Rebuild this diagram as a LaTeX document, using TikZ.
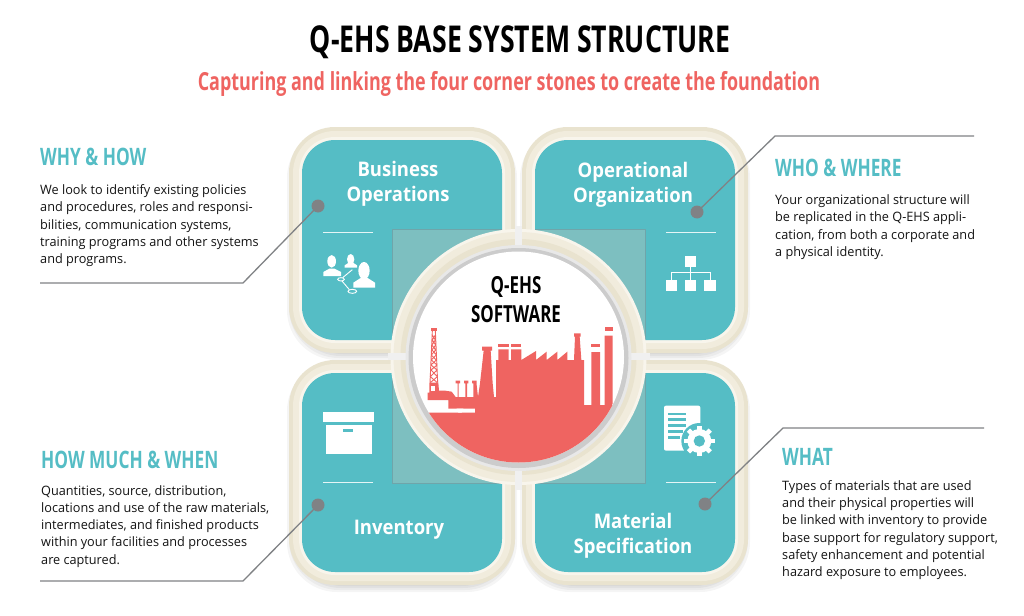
\documentclass[tikz,border=0pt]{standalone}
\usepackage{fontspec}
\setmainfont{Open Sans}
\newfontfamily\cond[FakeStretch=0.72]{Open Sans}
\newfontfamily\semi[FakeStretch=0.98]{Open Sans}
\newfontfamily\semib[FakeStretch=0.92]{Open Sans}
\definecolor{teal}{HTML}{55BDC5}
\definecolor{lightteal}{HTML}{7DBFC0}
\definecolor{tealedge}{HTML}{6FA5AA}
\definecolor{coral}{HTML}{EF6461}
\definecolor{creamA}{HTML}{E9E3CF}
\definecolor{creamB}{HTML}{F1ECDD}
\definecolor{creamC}{HTML}{F8F5EC}
\definecolor{wire}{HTML}{808285}
\tikzset{
  bodytext/.style={anchor=north west,align=left,inner sep=0pt,text=black!92,font=\semi\fontsize{12.95}{17.3}\selectfont},
  headtext/.style={anchor=west,inner sep=0pt,text=teal,font=\cond\bfseries\fontsize{24}{26}\selectfont},
  paneltext/.style={align=center,inner sep=0pt,text=white,font=\semib\bfseries\fontsize{20.1}{25.3}\selectfont},
  dotnode/.style={circle,fill=wire,inner sep=0pt,minimum size=13pt},
  wireline/.style={draw=wire,line width=1.3pt},
  sepline/.style={draw=white!85!teal,line width=1pt}
}
% #1,#2 = left,top of teal area; #3,#4 = right,bottom
\newcommand{\panelshadow}[4]{%
  \foreach \s in {15,13,11,9,7,5}{%
    \fill[black,opacity=.04,rounded corners=50pt] (#1-\s,#2-\s+3) rectangle (#3+\s,#4+\s+5);}}
\newcommand{\panelbody}[4]{%
  \fill[creamA,rounded corners=46pt] (#1-13,#2-13) rectangle (#3+13,#4+13);
  \fill[creamB,rounded corners=42pt] (#1-9,#2-9) rectangle (#3+9,#4+9);
  \fill[creamC,rounded corners=36pt] (#1-3,#2-3) rectangle (#3+3,#4+3);
  \fill[teal,rounded corners=33pt] (#1,#2) rectangle (#3,#4);}
\begin{document}
\begin{tikzpicture}[x=1pt,y=-1pt]
\useasboundingbox (0,0) rectangle (1024,615);
\fill[white] (0,0) rectangle (1024,615);

% title
\node[inner sep=0pt,font=\cond\bfseries\fontsize{37}{40}\selectfont] (title) at (520,42) {Q-EHS BASE SYSTEM STRUCTURE};
\node[inner sep=0pt,text=coral,font=\cond\bfseries\fontsize{24.9}{28}\selectfont] (subtitle) at (509,84) {Capturing and linking the four corner stones to create the foundation};

% panels
\panelshadow{302}{140}{502}{340}
\panelshadow{535}{140}{735}{340}
\panelshadow{302}{373}{502}{572}
\panelshadow{535}{373}{735}{572}
\panelbody{302}{140}{502}{340}
\panelbody{535}{140}{735}{340}
\panelbody{302}{373}{502}{572}
\panelbody{535}{373}{735}{572}

% lighter inner squares
\fill[lightteal] (392,229) rectangle (502,340);
\draw[tealedge,line width=.7pt] (502,229) -- (392,229) -- (392,340);
\fill[lightteal] (535,229) rectangle (645,340);
\draw[tealedge,line width=.7pt] (535,229) -- (645,229) -- (645,340);
\fill[lightteal] (392,373) rectangle (502,483);
\draw[tealedge,line width=.7pt] (392,373) -- (392,483) -- (502,483);
\fill[lightteal] (535,373) rectangle (645,483);
\draw[tealedge,line width=.7pt] (645,373) -- (645,483) -- (535,483);

% ring
\fill[creamC] (518.5,357) circle[radius=128pt];
\fill[creamB] (518.5,357) circle[radius=125pt];
\fill[creamA] (518.5,357) circle[radius=118pt];
% gaps through the ring
\fill[black!6] (515,226) rectangle (522,250);
\fill[black!6] (515,464) rectangle (522,490);
\fill[black!6] (388,353) rectangle (412,360);
\fill[black!6] (625,353) rectangle (650,360);
% grey rim and white disc
\fill[black!9] (518.5,358) circle[radius=113pt];
\fill[black!20] (518.5,358) circle[radius=110pt];
\fill[white] (518.5,357) circle[radius=105.5pt];

% skyline
\begin{scope}
\clip (518.5,357) circle[radius=105.5pt];
\begin{scope}[shift={(390,220)},scale=1/3]
\fill[coral] (60,800) -- (60,578) -- (255,578) -- (255,566) -- (175,566) -- (175,540) -- (113,540) -- (113,518)
  -- (118,518) -- (118,488) -- (145,488) -- (147,512) -- (165,512) -- (185,515) -- (197,531)
  -- (203,531) -- (203,490) -- (197,490) -- (197,482) -- (210,482) -- (210,490) -- (206,490) -- (206,531)
  -- (226,531) -- (226,490) -- (222,490) -- (222,482) -- (235,482) -- (235,490) -- (231,490) -- (231,531)
  -- (250,531) -- (250,490) -- (246,490) -- (246,482) -- (260,482) -- (260,495) -- (264,531)
  -- (270,490) -- (281,392) -- (276,392) -- (276,380) -- (306,380) -- (306,392) -- (302,392) -- (308,490)
  -- (312,531) -- (318,531) -- (318,420) -- (325,420) -- (325,388) -- (356,388) -- (356,420) -- (363,420)
  -- (363,388) -- (394,388) -- (394,420) -- (438,393) -- (438,420) -- (470,395) -- (470,420) -- (502,395)
  -- (502,420) -- (532,395) -- (532,420) -- (552,420) -- (555,350) -- (552,350) -- (552,340) -- (572,340)
  -- (572,350) -- (569,350) -- (574,420) -- (582,420) -- (582,555) -- (604,555) -- (604,396) -- (630,396)
  -- (630,555) -- (644,555) -- (644,347) -- (668,347) -- (668,555) -- (720,555) -- (720,800) -- cycle;
\fill[coral] (325,371) rectangle (356,381);
\fill[coral] (363,371) rectangle (394,381);
\fill[coral] (604,372) rectangle (630,382);
\fill[coral] (644,322) rectangle (668,332);
% rig
\fill[coral] (123,324) rectangle (141,332);
\draw[coral,line width=.9pt] (127,332) -- (120,488) (136,332) -- (143,488)
  (127,345) -- (136,360) -- (126,375) -- (137,390) -- (124,405) -- (139,420) -- (123,435) -- (141,450) -- (121,470) -- (142,488)
  (136,345) -- (127,360) -- (137,375) -- (126,390) -- (139,405) -- (124,420) -- (141,435) -- (123,450) -- (142,470) -- (121,488);
\fill[white] (200,566) -- (220,566) -- (215,578) -- (205,578) -- cycle;
\fill[white] (124,498) rectangle (135,512);
\end{scope}
\end{scope}

\node[inner sep=0pt,font=\cond\bfseries\fontsize{23.5}{29}\selectfont,align=center] (software) at (516,299.5) {Q-EHS\\SOFTWARE};

% panel labels
\node[paneltext] (bizops) at (398,183.5) {Business\\Operations};
\node[paneltext] (opsorg) at (633,184.5) {Operational\\Organization};
\node[paneltext] (invent) at (399,530) {Inventory};
\node[paneltext] (matspec) at (633,535.5) {Material\\Specification};

% separators
\draw[sepline] (323,232) -- (373,232);
\draw[sepline] (666,232) -- (716,232);
\draw[sepline] (323,482) -- (373,482);
\draw[sepline] (666,482) -- (716,482);

% people icon
\begin{scope}[shift={(280,120)},scale=1/3]
\fill[white] (155,424) ellipse[x radius=13,y radius=19];
\fill[white] (130,468) -- (130,456) -- (148,446) -- (163,446) -- (183,456) -- (183,468) -- cycle;
\fill[white] (212,418) ellipse[x radius=11,y radius=16];
\fill[white] (194,443) -- (194,436) -- (206,428) -- (219,428) -- (231,436) -- (231,443) -- cycle;
\fill[white] (252,452) ellipse[x radius=17,y radius=26];
\fill[white] (220,503) -- (220,488) -- (242,474) -- (263,474) -- (285,488) -- (285,503) -- cycle;
\draw[white,line width=.9pt] (183,478) ellipse[x radius=10,y radius=5];
\draw[white,line width=.9pt] (217,514) ellipse[x radius=13,y radius=6];
\draw[white,line width=.9pt] (188,473) -- (217,449) (186,483) -- (208,509);
\end{scope}

% org chart icon
\begin{scope}[shift={(520,120)},scale=1/3]
\fill[white] (495,408) rectangle (528,440);
\fill[white] (437,480) rectangle (470,512);
\fill[white] (495,480) rectangle (528,512);
\fill[white] (553,480) rectangle (587,512);
\draw[white,line width=.8pt] (512,440) -- (512,480) (453,480) -- (453,458) -- (570,458) -- (570,480);
\end{scope}

% box icon
\begin{scope}[shift={(280,360)},scale=1/3]
\fill[white] (130,155) rectangle (282,187);
\fill[white] (137,195) rectangle (275,283);
\fill[teal] (190,208) rectangle (220,217);
\end{scope}

% document and gear icon
\begin{scope}[shift={(510,360)},scale=1/3]
\fill[white,rounded corners=2pt] (462,137) rectangle (571,272);
\fill[teal] (475,158) rectangle (527,165);
\fill[teal] (475,175) rectangle (527,182);
\fill[teal] (475,193) rectangle (527,200);
\fill[teal] (475,211) rectangle (520,218);
\fill[teal] (475,229) rectangle (510,236);
\fill[teal] (568,243) circle[radius=54];
\foreach \a in {0,45,...,135}{%
  \fill[white,rotate around={\a:(568,243)}] (561,197) rectangle (575,289);}
\fill[white] (568,243) circle[radius=36];
\fill[teal] (568,243) circle[radius=17];
\end{scope}

% headings
\node[headtext] (why) at (40,157) {WHY \& HOW};
\node[headtext] (who) at (775,168) {WHO \& WHERE};
\node[headtext] (how) at (41,460) {HOW MUCH \& WHEN};
\node[headtext] (what) at (782,457) {WHAT};

% body text
\node[bodytext] (whytxt) at (40,184.5) {We look to identify existing policies\\and procedures, roles and responsi-\\bilities, communication systems,\\training programs and other systems\\and programs.};
\node[bodytext] (whotxt) at (775,194.5) {Your organizational structure will\\be replicated in the Q-EHS appli-\\cation, from both a corporate and\\a physical identity.};
\node[bodytext] (howtxt) at (41,485) {Quantities, source, distribution,\\locations and use of the raw materials,\\intermediates, and finished products\\within your facilities and processes\\are captured.};
\node[bodytext] (whattxt) at (782,480) {Types of materials that are used\\and their physical properties will\\be linked with inventory to provide\\base support for regulatory support,\\safety enhancement and potential\\hazard exposure to employees.};

% connectors
\node[dotnode] (d1) at (318,206) {};
\node[dotnode] (d2) at (697,212) {};
\node[dotnode] (d3) at (318,505) {};
\node[dotnode] (d4) at (705,504) {};
\coordinate (b1) at (243,283); \coordinate (e1) at (40,283);
\coordinate (b2) at (775,136); \coordinate (e2) at (974,136);
\coordinate (b3) at (243,581); \coordinate (e3) at (40,581);
\coordinate (b4) at (783,428); \coordinate (e4) at (984,428);
\draw[wireline] (d1.center) -- (b1) -- (e1);
\draw[wireline] (d2.center) -- (b2) -- (e2);
\draw[wireline] (d3.center) -- (b3) -- (e3);
\draw[wireline] (d4.center) -- (b4) -- (e4);
\end{tikzpicture}
\end{document}
